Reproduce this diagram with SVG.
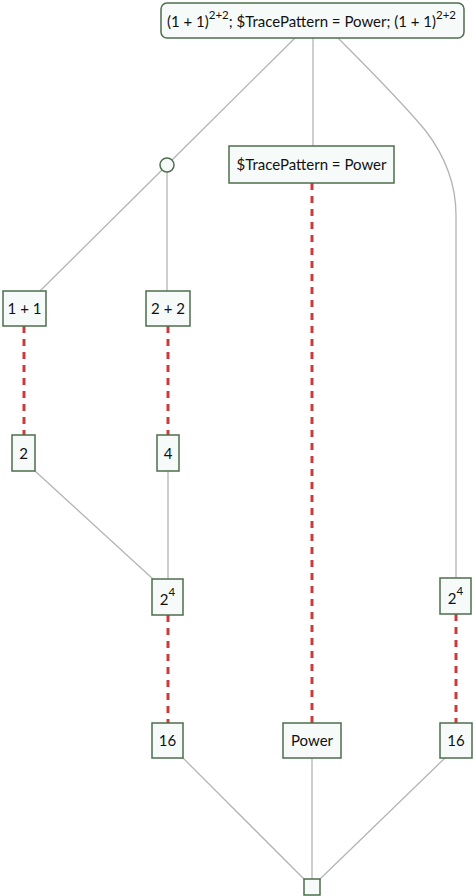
<svg xmlns="http://www.w3.org/2000/svg" width="474" height="896" viewBox="0 0 474 896">
<style>
.n{fill:#f6fbf9;stroke:#4d6e4d;stroke-width:1.5}
.t{font-family:Lato,"Open Sans","Liberation Sans",sans-serif;font-size:15px;fill:#111;text-anchor:middle}
.s{font-size:11.5px}
.g{fill:none;stroke:#b4b4b4;stroke-width:1.3}
.r{fill:none;stroke:#cc3b3b;stroke-width:3;stroke-dasharray:7,6}
</style>
<rect width="474" height="896" fill="#fff"/>
<g id="connectors">
<line class="g" x1="295" y1="38" x2="172" y2="160"/>
<line class="g" x1="313" y1="38" x2="313" y2="146"/>
<path class="g" d="M338,38 Q400,100 425,130 Q456,170 456,215 L456,578"/>
<line class="g" x1="162" y1="170" x2="40" y2="291"/>
<line class="g" x1="167" y1="172" x2="167" y2="291"/>
<line class="g" x1="35" y1="471" x2="153" y2="579"/>
<line class="g" x1="168" y1="471" x2="168" y2="579"/>
<line class="g" x1="182" y1="757" x2="305" y2="880"/>
<line class="g" x1="312" y1="758" x2="312" y2="879"/>
<line class="g" x1="446" y1="757" x2="319" y2="880"/>
<line class="r" x1="24" y1="326" x2="24" y2="435"/>
<line class="r" x1="168" y1="326" x2="168" y2="435"/>
<line class="r" x1="312" y1="183" x2="312" y2="723"/>
<line class="r" x1="168" y1="615" x2="168" y2="723"/>
<line class="r" x1="456" y1="614" x2="456" y2="723"/>
</g>
<g id="top">
<rect class="n" x="161" y="3" width="303" height="35" rx="6"/>
<text class="t" x="311.5" y="27">(1 + 1)<tspan class="s" dy="-8">2+2</tspan><tspan dy="8">; $TracePattern = Power; (1 + 1)</tspan><tspan class="s" dy="-8">2+2</tspan></text>
</g>
<g id="circle"><circle class="n" cx="167" cy="165" r="7"/></g>
<g id="trace">
<rect class="n" x="229" y="146" width="165" height="37"/>
<text class="t" x="311.5" y="170">$TracePattern = Power</text>
</g>
<g id="n11">
<rect class="n" x="3" y="291" width="43" height="35"/>
<text class="t" x="24.5" y="314">1 + 1</text>
</g>
<g id="n22">
<rect class="n" x="146" y="291" width="44" height="35"/>
<text class="t" x="168" y="314">2 + 2</text>
</g>
<g id="n2">
<rect class="n" x="12" y="435" width="23" height="36"/>
<text class="t" x="23.5" y="459">2</text>
</g>
<g id="n4">
<rect class="n" x="157" y="435" width="22" height="36"/>
<text class="t" x="168" y="459">4</text>
</g>
<g id="p1">
<rect class="n" x="152" y="579" width="31" height="36"/>
<text class="t" x="167.5" y="605">2<tspan class="s" dy="-9">4</tspan></text>
</g>
<g id="p2">
<rect class="n" x="440" y="578" width="31" height="36"/>
<text class="t" x="455.5" y="604">2<tspan class="s" dy="-9">4</tspan></text>
</g>
<g id="s1">
<rect class="n" x="152" y="723" width="31" height="35"/>
<text class="t" x="167.5" y="746">16</text>
</g>
<g id="pw">
<rect class="n" x="283" y="723" width="58" height="35"/>
<text class="t" x="312" y="746">Power</text>
</g>
<g id="s2">
<rect class="n" x="440" y="723" width="32" height="35"/>
<text class="t" x="456" y="746">16</text>
</g>
<g id="bottom"><rect class="n" x="304" y="879" width="16" height="16"/></g>
</svg>
